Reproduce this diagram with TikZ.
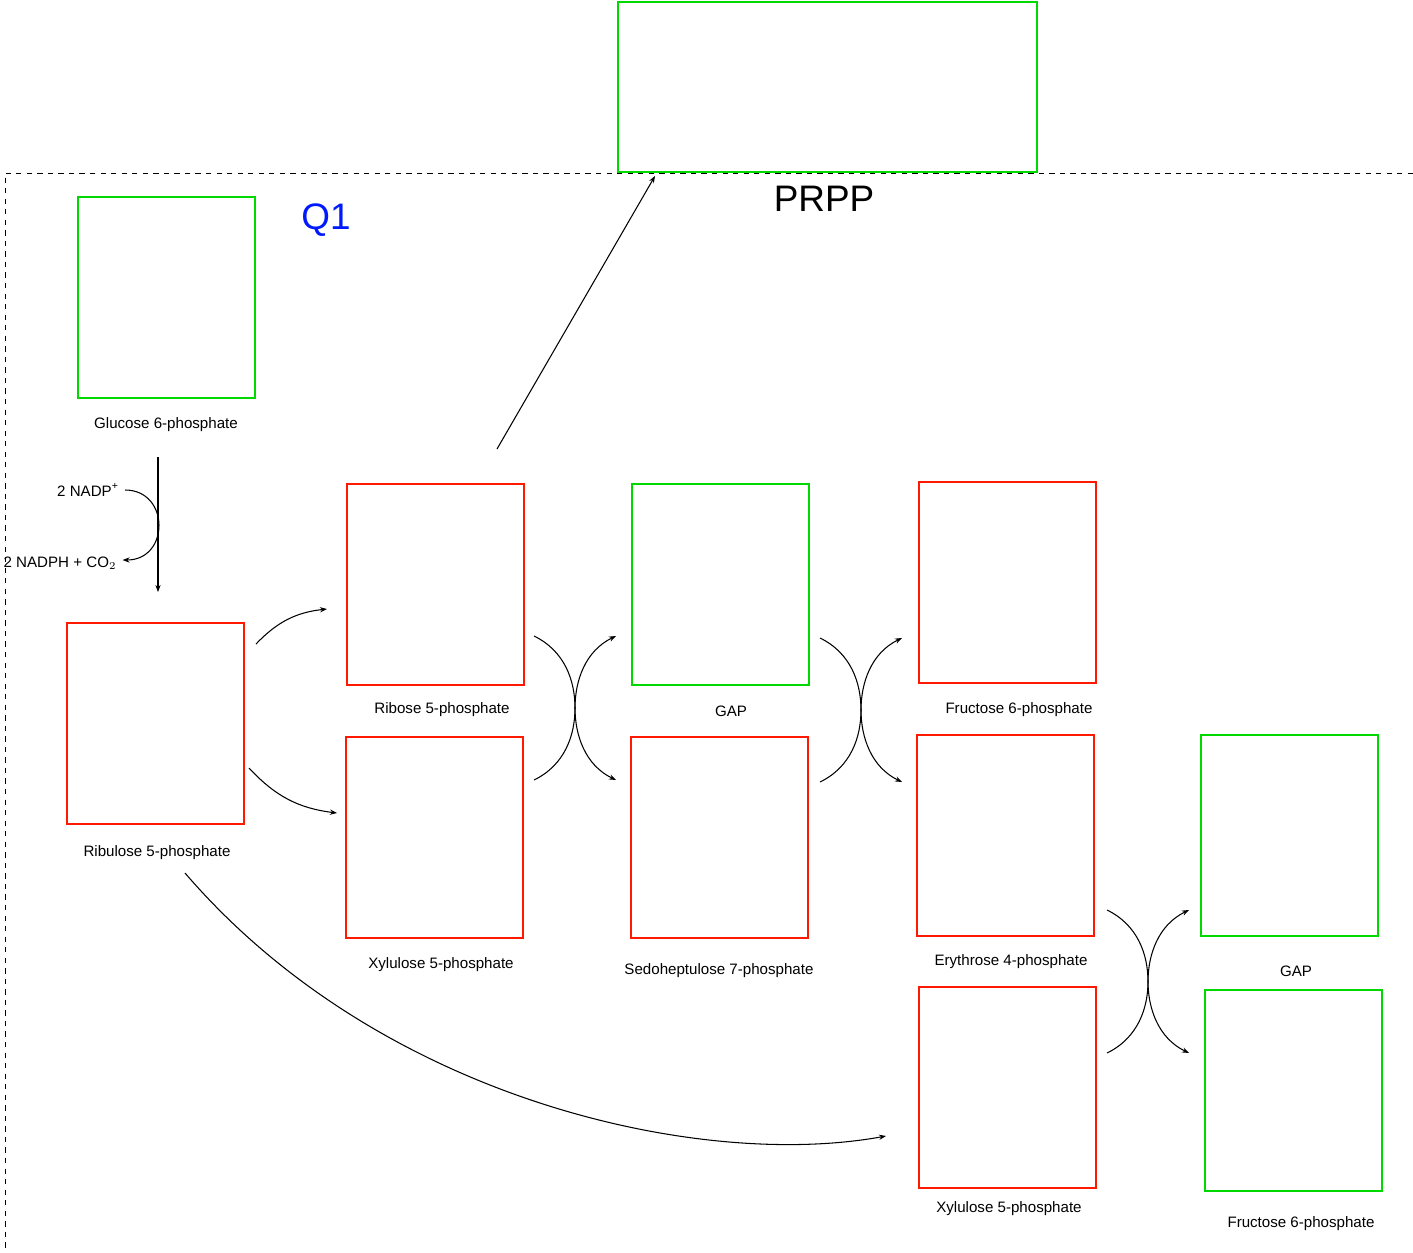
\documentclass[tikz,border=0pt]{standalone}
\usepackage{fontspec}
\setmainfont{Liberation Sans}
\usetikzlibrary{positioning}
\usetikzlibrary{arrows.meta}

\begin{document}
\begin{tikzpicture}
[x = 0.02cm, y = -0.02cm,
redbox/.style = {draw = red!80!orange, thick},
greenbox/.style = {draw = green!85!black, thick},
lbl/.style = {font = \fontsize{8.6}{10}\selectfont},
post/.style = {-{Stealth[length=4pt]}, semithick}]

\useasboundingbox (0, 0) rectangle (1413, 1252);

% frame
\draw[dashed, thin] (1413, 173) -- (5, 173) -- (5, 1252);
\node[text = blue!90!cyan, font = \fontsize{21}{24}\selectfont] (q1) at (326, 220) {Q1};

% boxes
\draw[greenbox] (618, 2) rectangle (1037, 172);
\node[font = \fontsize{21}{24}\selectfont] (prpp) at (824, 199) {PRPP};
\draw[greenbox] (78, 197) rectangle (255, 398);
\node[lbl] (glucose) at (166, 425) {Glucose 6-phosphate};
\draw[redbox] (67, 623) rectangle (244, 824);
\node[lbl] (ribulose) at (157, 853) {Ribulose 5-phosphate};
\draw[redbox] (347, 484) rectangle (524, 685);
\node[lbl] (ribose) at (442, 710) {Ribose 5-phosphate};
\draw[greenbox] (632, 484) rectangle (809, 685);
\node[lbl] (gap) at (731, 711) {GAP};
\draw[redbox] (919, 482) rectangle (1096, 683);
\node[lbl] (fructose) at (1019, 710) {Fructose 6-phosphate};
\draw[redbox] (346, 737) rectangle (523, 938);
\node[lbl] (xylulose) at (441, 965) {Xylulose 5-phosphate};
\draw[redbox] (631, 737) rectangle (808, 938);
\node[lbl] (sedo) at (719, 971) {Sedoheptulose 7-phosphate};
\draw[redbox] (917, 735) rectangle (1094, 936);
\node[lbl] (erythrose) at (1011, 962) {Erythrose 4-phosphate};
\draw[greenbox] (1201, 735) rectangle (1378, 936);
\node[lbl] (gap two) at (1296, 971) {GAP};
\draw[redbox] (919, 987) rectangle (1096, 1188);
\node[lbl] (xylulose two) at (1009, 1209) {Xylulose 5-phosphate};
\draw[greenbox] (1205, 990) rectangle (1382, 1191);
\node[lbl] (fructose two) at (1301, 1224) {Fructose 6-phosphate};

% cofactors
\node[lbl] (nadp) at (88, 490) {2 NADP\textsuperscript{+}};
\node[lbl] (nadph) at (60, 563) {2 NADPH + CO$_2$};
\coordinate (g top) at (158, 457);
\coordinate (g bot) at (158, 592);
\draw[post] (g top) -- (g bot);
\draw[post] (nadp.east) .. controls (170, 490) and (170, 560) .. (nadph.east |- 0, 560);

% arrows
\coordinate (ru a) at (256, 644);
\coordinate (ru b) at (249, 768);
\coordinate (ru c) at (185, 873);
\coordinate (ri in) at (327, 609);
\coordinate (xy in) at (337, 813);
\coordinate (xy2 in) at (886, 1136);
\coordinate (ri out) at (497, 449);
\coordinate (pr in) at (655, 176);
\draw[post] (ru a) to[bend left = 20] (ri in);
\draw[post] (ru b) to[bend right = 20] (xy in);
\draw[post] (ru c) .. controls (380, 1100) and (700, 1170) .. (xy2 in);
\draw[post] (ri out) -- (pr in);

% crossings
\foreach \cx/\top/\bot in {575/636/780, 861/638/782, 1148/910/1053} {
\draw[semithick] (\cx-41, \top) .. controls (\cx-10, \top+15) and (\cx, \top+45) .. (\cx, \top/2+\bot/2)
  .. controls (\cx, \bot-45) and (\cx-10, \bot-15) .. (\cx-41, \bot);
\draw[post] (\cx, \top/2+\bot/2) .. controls (\cx, \top+45) and (\cx+10, \top+15) .. (\cx+41, \top);
\draw[post] (\cx, \top/2+\bot/2) .. controls (\cx, \bot-45) and (\cx+10, \bot-15) .. (\cx+41, \bot);
}
\end{tikzpicture}
\end{document}
